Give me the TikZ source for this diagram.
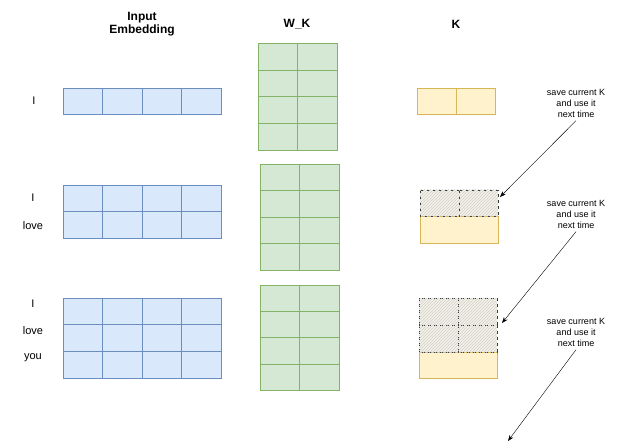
\documentclass[tikz,border=0pt]{standalone}
\usepackage{fontspec}
\setmainfont{Liberation Sans}
\usetikzlibrary{patterns,arrows.meta}
\definecolor{embfill}{HTML}{DAE8FC}
\definecolor{embline}{HTML}{6C8EBF}
\definecolor{wkfill}{HTML}{D5E8D4}
\definecolor{wkline}{HTML}{82B366}
\definecolor{kfill}{HTML}{FFF2CC}
\definecolor{kline}{HTML}{D6B656}
\definecolor{oldfill}{HTML}{F4F1E6}
\tikzset{
emb/.style={draw=embline, fill=embfill},
wk/.style={draw=wkline, fill=wkfill},
kk/.style={draw=kline, fill=kfill},
old/.style={draw=black!80, dashed, fill=oldfill},
hatch/.style={pattern=north east lines, pattern color=black!18},
lbl/.style={font=\fontsize{11}{12}\selectfont},
note/.style={font=\fontsize{9}{11}\selectfont, align=center},
head/.style={font=\fontsize{12}{13}\selectfont\bfseries, align=center}
}
% grid of cells: style, x0, y0, cols, rows, cell width, cell height
\newcommand{\cells}[7]{
\foreach \i in {1,...,#4}
  \foreach \j in {1,...,#5}
    \draw[#1] ({#2+(\i-1)*#6},{#3+(\j-1)*#7}) rectangle ++(#6,#7);
}
\begin{document}
\begin{tikzpicture}[x=1pt,y=-1pt]
\useasboundingbox (0,0) rectangle (620,446);

\node[head] (t1) at (142,24) {Input\\Embedding};
\node[head] (t2) at (297,24) {W\_K};
\node[head] (t3) at (456,24) {K};

\node[lbl] (a1) at (34,101) {I};
\node[lbl] (b1) at (33,198) {I};
\node[lbl] (b2) at (33,226) {love};
\node[lbl] (c1) at (33,304) {I};
\node[lbl] (c2) at (33,331) {love};
\node[lbl] (c3) at (33,358) {you};

% input embedding
\cells{emb}{63}{88}{4}{1}{39.5}{26.5}
\cells{emb}{63}{185}{4}{2}{39.5}{26.5}
\cells{emb}{63}{298}{4}{3}{39.5}{26.67}

% W_K
\cells{wk}{258}{43}{2}{4}{39.5}{26.75}
\cells{wk}{260}{164}{2}{4}{39.5}{26.5}
\cells{wk}{260}{285}{2}{4}{39.5}{26.25}

% K
\cells{kk}{417}{88}{2}{1}{39}{26}
\draw[kk] (420,216) rectangle (498,243);
\cells{old}{420}{190}{2}{1}{39}{26}
\fill[hatch] (420,190) rectangle (498,216);
\draw[kk] (419,352) rectangle (497,378);
\cells{old}{419}{298}{2}{2}{39}{27}
\fill[hatch] (419,298) rectangle (497,352);

\node[note] (n1) at (576,103) {save current K\\and use it\\next time};
\node[note] (n2) at (576,214) {save current K\\and use it\\next time};
\node[note] (n3) at (576,332) {save current K\\and use it\\next time};
\coordinate (e1) at (500,197);
\coordinate (e2) at (502,323);
\coordinate (e3) at (508,441);
\draw[-{Stealth[length=6pt]}] (n1.south) -- (e1);
\draw[-{Stealth[length=6pt]}] (n2.south) -- (e2);
\draw[-{Stealth[length=6pt]}] (n3.south) -- (e3);
\end{tikzpicture}
\end{document}
